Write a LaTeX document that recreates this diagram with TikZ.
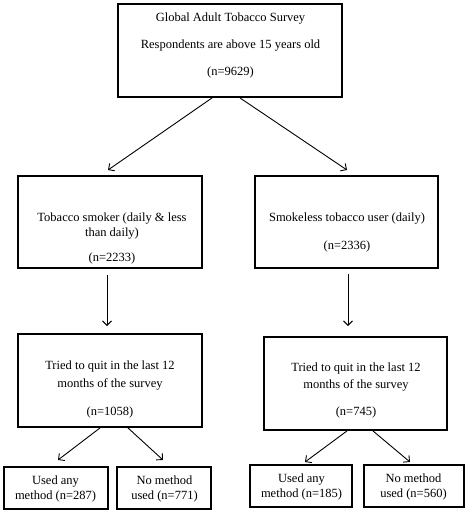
\documentclass[tikz,border=0pt]{standalone}
\usepackage{fontspec}
\setmainfont{Liberation Serif}
\usetikzlibrary{arrows.meta}
\begin{document}
\begin{tikzpicture}[x=1pt,y=-1pt,
  boxnode/.style={draw=black,line width=1.9pt,inner sep=0pt,minimum width=#1},
  txt/.style={font=\fontsize{12.5}{15}\selectfont,align=center,inner sep=0pt},
  arr/.style={-{Straight Barb[length=4.5pt,width=9pt]},line width=0.9pt}]
\useasboundingbox[fill=white] (0,0) rectangle (474,515);
% boxes
\node[boxnode=224pt,minimum height=93pt] (top) at (230,50.5) {};
\node[boxnode=184pt,minimum height=92pt] (smk) at (110,222) {};
\node[boxnode=183pt,minimum height=92pt] (sml) at (346.5,222) {};
\node[boxnode=184pt,minimum height=93pt] (qL) at (110,380.5) {};
\node[boxnode=183pt,minimum height=93pt] (qR) at (355.5,383.5) {};
\node[boxnode=104pt,minimum height=42pt] (uL) at (56,488) {};
\node[boxnode=94pt,minimum height=42pt] (nL) at (164,488) {};
\node[boxnode=102pt,minimum height=42pt] (uR) at (301,486) {};
\node[boxnode=100pt,minimum height=42pt] (nR) at (414,486) {};
% texts
\node[txt] (topT) at (230.5,45.5) {Global Adult Tobacco Survey\\[12pt]Respondents are above 15 years old\\[12pt](n=9629)};
\node[txt] (smkT) at (112,238) {Tobacco smoker (daily \& less\\than daily)\\[10pt](n=2233)};
\node[txt] (smlT) at (347,232) {Smokeless tobacco user (daily)\\[13pt](n=2336)};
\node[txt] (qLT) at (110,389) {Tried to quit in the last 12\\[3pt]months of the survey\\[13pt](n=1058)};
\node[txt] (qRT) at (356,390) {Tried to quit in the last 12\\[2pt]months of the survey\\[12pt](n=745)};
\node[txt] (uLT) at (55.5,489) {Used any\\method (n=287)};
\node[txt] (nLT) at (164.5,489) {No method\\used (n=771)};
\node[txt] (uRT) at (301.5,487) {Used any\\method (n=185)};
\node[txt] (nRT) at (413.5,487) {No method\\used (n=560)};
% arrow ends
\coordinate (t1) at (108,170);
\coordinate (t2) at (347,170);
\coordinate (s3) at (107,275);
\coordinate (t3) at (107,326);
\coordinate (s4) at (348,274);
\coordinate (t4) at (348,326);
\coordinate (t5) at (58,460);
\coordinate (t6) at (163,460);
\coordinate (t7) at (305,462);
\coordinate (t8) at (410,462);
% connectors
\draw[arr] ([xshift=-18pt]top.south) -- (t1);
\draw[arr] ([xshift=10pt]top.south) -- (t2);
\draw[arr] (s3) -- (t3);
\draw[arr] (s4) -- (t4);
\draw[arr] ([xshift=-10pt]qL.south) -- (t5);
\draw[arr] ([xshift=18pt]qL.south) -- (t6);
\draw[arr] ([xshift=-8.5pt]qR.south) -- (t7);
\draw[arr] ([xshift=17.5pt]qR.south) -- (t8);
\end{tikzpicture}
\end{document}
